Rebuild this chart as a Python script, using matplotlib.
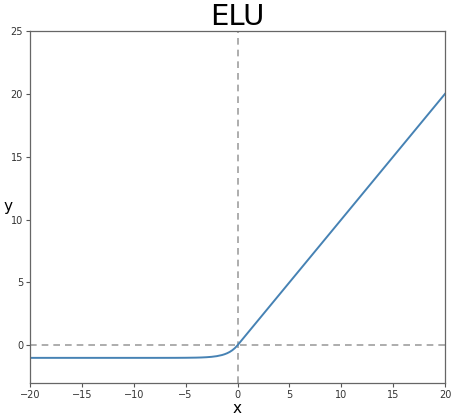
import matplotlib
matplotlib.use("Agg")
import matplotlib.pyplot as plt

# values
x_vals = [-20, -15, -10, -8, -6, -5, -4, -3.5, -3, -2.5, -2, -1.5, -1.25, -1, -0.75, -0.5, -0.25, 0, 5, 10, 15, 20]
y_vals = [-1.0, -1.0, -1.0, -1.0, -0.998, -0.993, -0.982, -0.97, -0.95, -0.918, -0.865, -0.777, -0.713, -0.632, -0.528, -0.393, -0.221, 0.0, 5, 10, 15, 20]

x_ticks = [-20, -15, -10, -5, 0, 5, 10, 15, 20]
y_ticks = [0, 5, 10, 15, 20, 25]

fig = plt.figure(figsize=(4.54, 4.18), dpi=100)
ax = fig.add_axes([30/454, 1 - 383/418, 415/454, 352/418])

ax.axhline(0, color="#a0a0a0", linestyle=(0, (4, 3)), linewidth=1.2)
ax.axvline(0, color="#a0a0a0", linestyle=(0, (4, 3)), linewidth=1.2)
ax.plot(x_vals, y_vals, color="#4682b4", linewidth=1.4)

ax.set_xlim(-20, 20)
ax.set_ylim(-3, 25)
ax.set_xticks(x_ticks)
ax.set_yticks(y_ticks)
ax.tick_params(labelsize=7, length=3, width=0.8, color="#555555", labelcolor="#333333", pad=2)
for s in ax.spines.values():
    s.set_color("#666666")
    s.set_linewidth(0.9)

ax.set_title("ELU", fontsize=21, pad=2)
ax.set_xlabel("x", fontsize=11, labelpad=1)
ax.set_ylabel("y", fontsize=11, rotation=0, va="center", ha="center")
ax.yaxis.set_label_coords(-22/415, 0.5)

fig.savefig("out.png", dpi=100)
